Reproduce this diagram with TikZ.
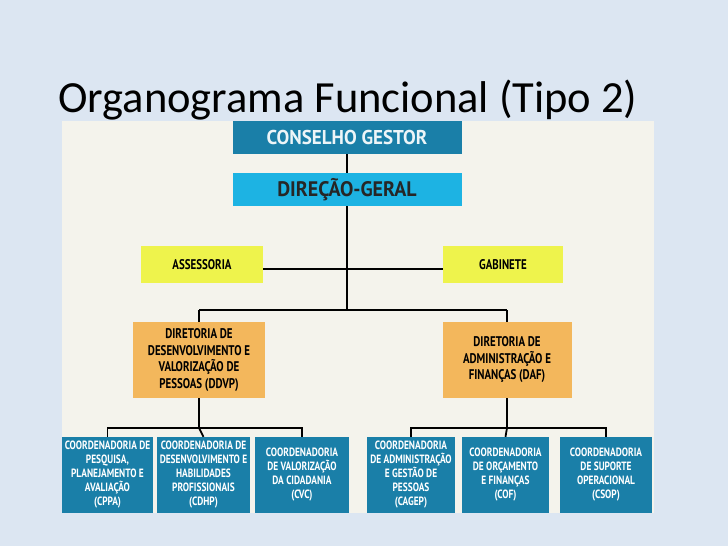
\documentclass[tikz,border=0pt]{standalone}
\usepackage{fontspec}
\setmainfont{Carlito}
\newfontfamily\boxfont[FakeStretch=0.78]{PT Sans}
\newfontfamily\widefont[FakeStretch=0.95]{PT Sans}
\definecolor{bg}{HTML}{DCE6F2}
\definecolor{panel}{HTML}{F4F3EC}
\definecolor{dblue}{HTML}{1A7FA8}
\definecolor{lblue}{HTML}{1DB3E3}
\definecolor{yell}{HTML}{EEF34C}
\definecolor{oran}{HTML}{F3B75C}
\tikzset{
 bx/.style={inner sep=0pt,align=center,font=\boxfont\bfseries},
 coord/.style={fill=dblue,text=white,bx,font=\boxfont\bfseries\fontsize{12}{14}\selectfont},
 dir/.style={bx,fill=oran,font=\boxfont\bfseries\fontsize{14}{16.5}\selectfont},
 ln/.style={line width=1.8pt,black}
}
\begin{document}
\begin{tikzpicture}[x=1pt,y=-1pt]
\fill[bg] (0,0) rectangle (728,546);
\useasboundingbox (0,0) rectangle (728,546);
\fill[panel] (62,121) rectangle (654,513);
\node[anchor=base west,font=\fontsize{44.5}{48}\selectfont,inner sep=0pt] (title) at (58,112) {Organograma Funcional (Tipo 2)};
\coordinate (c1) at (347,269);
\coordinate (c2) at (347,310);
\coordinate (l1) at (199,310);
\coordinate (r1) at (507,310);
\coordinate (l2) at (199,428);
\coordinate (r2) at (507,428);
\node[bx,fill=dblue,text=white!92!dblue,minimum width=229,minimum height=33,font=\widefont\bfseries\fontsize{20}{22}\selectfont] (cg) at (347,137.5) {CONSELHO GESTOR};
\node[bx,fill=lblue,text=black!85,minimum width=229,minimum height=33,font=\widefont\bfseries\fontsize{21}{22}\selectfont] (dg) at (347,189.5) {DIREÇÃO-GERAL};
\node[bx,fill=yell,minimum width=122,minimum height=37,font=\boxfont\bfseries\fontsize{14}{16}\selectfont] (as) at (202,264.5) {ASSESSORIA};
\node[bx,fill=yell,minimum width=120,minimum height=37,font=\boxfont\bfseries\fontsize{14}{16}\selectfont] (gb) at (503,264.5) {GABINETE};
\node[dir,minimum width=132,minimum height=76] (dd) at (199,360) {DIRETORIA DE\\DESENVOLVIMENTO E\\VALORIZAÇÃO DE\\PESSOAS (DDVP)};
\node[dir,minimum width=129,minimum height=76] (da) at (507,360) {DIRETORIA DE\\ADMINISTRAÇÃO E\\FINANÇAS (DAF)};
\node[coord,minimum width=91,minimum height=76] (b1) at (107.5,475) {COORDENADORIA DE\\PESQUISA,\\PLANEJAMENTO E\\AVALIAÇÃO\\(CPPA)};
\node[coord,minimum width=93,minimum height=76] (b2) at (203.5,475) {COORDENADORIA DE\\DESENVOLVIMENTO E\\HABILIDADES\\PROFISSIONAIS\\(CDHP)};
\node[coord,minimum width=94,minimum height=76] (b3) at (302,475) {COORDENADORIA\\DE VALORIZAÇÃO\\DA CIDADANIA\\(CVC)};
\node[coord,minimum width=88,minimum height=76] (b4) at (411,475) {COORDENADORIA\\DE ADMINISTRAÇÃO\\E GESTÃO DE\\PESSOAS\\(CAGEP)};
\node[coord,minimum width=87,minimum height=76] (b5) at (505.5,475) {COORDENADORIA\\DE ORÇAMENTO\\E FINANÇAS\\(COF)};
\node[coord,minimum width=92,minimum height=76] (b6) at (606,475) {COORDENADORIA\\DE SUPORTE\\OPERACIONAL\\(CSOP)};
\draw[ln] (cg.south) -- (dg.north);
\draw[ln] (dg.south) -- (c2);
\draw[ln] (as.east |- c1) -- (gb.west |- c1);
\draw[ln] (l1) -- (r1);
\draw[ln] (l1) -- (dd.north);
\draw[ln] (r1) -- (da.north);
\draw[ln] (dd.south) -- (l2);
\draw[ln] (b1.north) |- (l2) -| (b3.north);
\draw[ln] (l2) -- (b2.north);
\draw[ln] (da.south) -- (r2);
\draw[ln] (b4.north) |- (r2) -| (b6.north);
\draw[ln] (r2) -- (b5.north);
\end{tikzpicture}
\end{document}
